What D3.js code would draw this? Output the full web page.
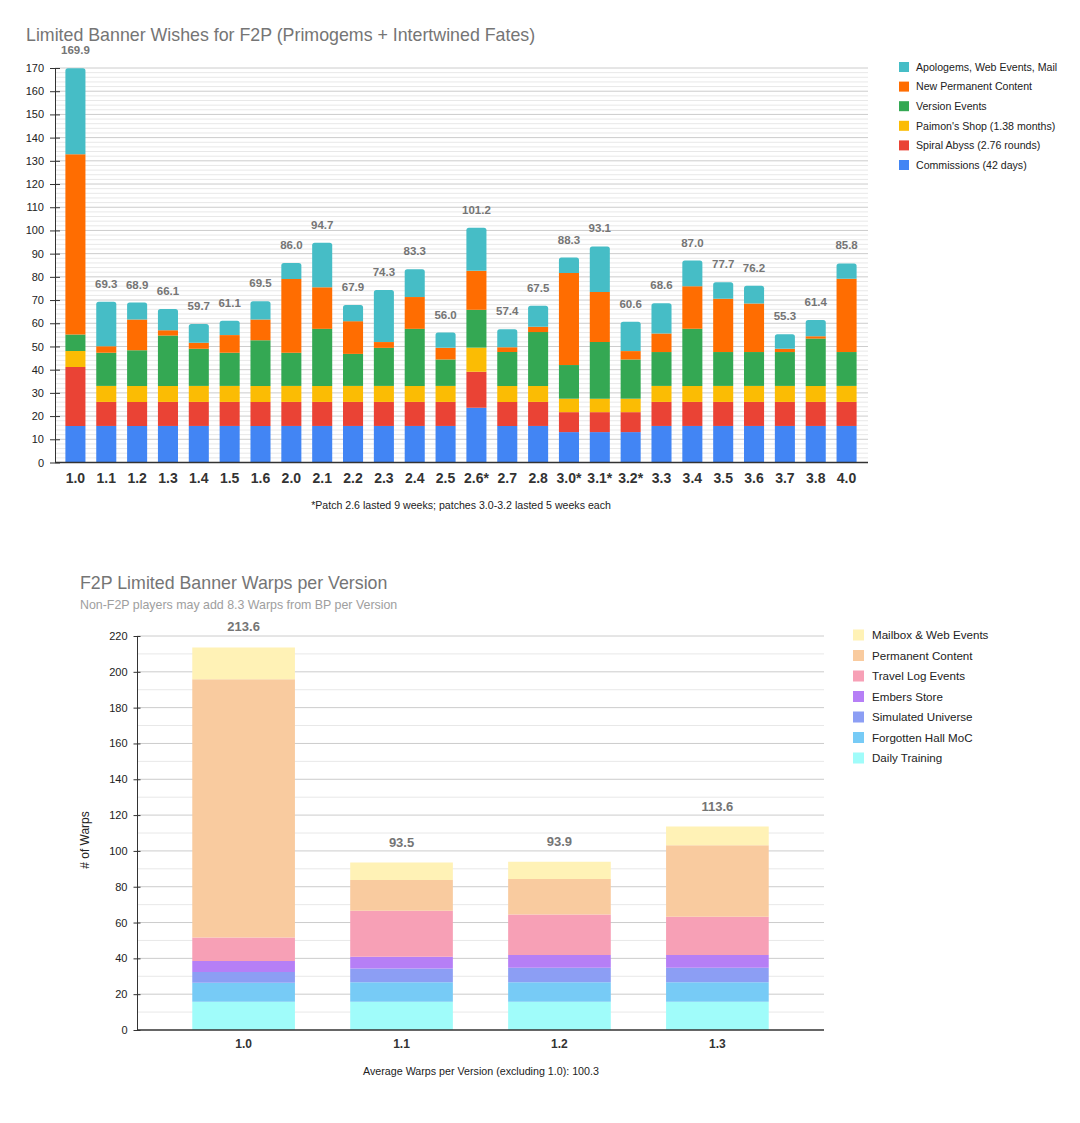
<!DOCTYPE html>
<html>
<head>
<meta charset="utf-8">
<script src="https://cdn.jsdelivr.net/npm/d3@7"></script>
<style>
  body { margin: 0; background: #fff; }
  svg { display: block; font-family: Arial, "Liberation Sans", sans-serif; }
</style>
</head>
<body>
<div id="chart"></div>
<script>
// Wykres 1: Genshin (wishes), wykres 2: HSR (warps)
const wishVersions = ["1.0","1.1","1.2","1.3","1.4","1.5","1.6","2.0","2.1","2.2","2.3","2.4","2.5","2.6*","2.7","2.8","3.0*","3.1*","3.2*","3.3","3.4","3.5","3.6","3.7","3.8","4.0"];
const wishSeries = ["Commissions (42 days)","Spiral Abyss (2.76 rounds)","Paimon's Shop (1.38 months)","Version Events","New Permanent Content","Apologems, Web Events, Mail"];
const wishColors = ["#4285f4","#ea4335","#fbbc04","#34a853","#ff6d01","#46bdc6"];

const commissions = [15.75,15.75,15.75,15.75,15.75,15.75,15.75,15.75,15.75,15.75,15.75,15.75,15.75,23.6,15.75,15.75,13.1,13.1,13.1,15.75,15.75,15.75,15.75,15.75,15.75,15.75];
const spiralAbyss = [25.35,10.35,10.35,10.35,10.35,10.35,10.35,10.35,10.35,10.35,10.35,10.35,10.35,15.5,10.35,10.35,8.6,8.6,8.6,10.35,10.35,10.35,10.35,10.35,10.35,10.35];
const paimonShop = [6.9,6.9,6.9,6.9,6.9,6.9,6.9,6.9,6.9,6.9,6.9,6.9,6.9,10.4,6.9,6.9,5.8,5.8,5.8,6.9,6.9,6.9,6.9,6.9,6.9,6.9];
const versionEvents = [7.2,14.3,15.4,21.7,16.0,14.3,19.7,14.3,24.6,13.8,16.4,24.6,11.4,16.3,14.6,23.2,14.5,24.4,16.9,14.6,24.6,14.6,14.6,14.6,20.4,14.6];
const newPermanent = [77.6,2.8,13.2,2.3,2.6,7.6,8.9,31.8,17.9,14.1,2.5,13.7,5.0,16.8,2.1,2.3,39.7,21.6,3.6,8.0,18.3,23.0,20.9,1.4,1.0,31.6];
const wishTotals = [169.9,69.3,68.9,66.1,59.7,61.1,69.5,86.0,94.7,67.9,74.3,83.3,56.0,101.2,57.4,67.5,88.3,93.1,60.6,68.6,87.0,77.7,76.2,55.3,61.4,85.8];
// reszta do sumy = Apologems, Web Events, Mail
const apologems = wishTotals.map((t, i) =>
  t - commissions[i] - spiralAbyss[i] - paimonShop[i] - versionEvents[i] - newPermanent[i]);

const warpVersions = ["1.0","1.1","1.2","1.3"];
const warpSeries = ["Daily Training","Forgotten Hall MoC","Simulated Universe","Embers Store","Travel Log Events","Permanent Content","Mailbox & Web Events"];
const warpColors = ["#a0fcfa","#77cbf6","#8c9ef4","#b67ff6","#f7a0b6","#f9cb9f","#fff2b6"];
const dailyTraining = [15.8,15.8,15.8,15.8];
const forgottenHall = [10.6,10.8,10.8,10.8];
const simUniverse = [6.0,7.8,8.2,8.2];
const embersStore = [6.1,6.5,7.1,7.1];
const travelLog = [13.2,25.7,22.6,21.3];
const permanentContent = [144.2,17.1,19.8,40.0];
const warpTotals = [213.6,93.5,93.9,113.6];
const mailbox = warpTotals.map((t, i) =>
  t - dailyTraining[i] - forgottenHall[i] - simUniverse[i] - embersStore[i] - travelLog[i] - permanentContent[i]);

const W = 1080, H = 1123;
const svg = d3.select("#chart").append("svg").attr("width", W).attr("height", H);

function roundedTop(x, y, w, h, r) {
  r = Math.min(r, h, w / 2);
  return `M${x},${y + h}V${y + r}Q${x},${y} ${x + r},${y}H${x + w - r}Q${x + w},${y} ${x + w},${y + r}V${y + h}Z`;
}

function drawStacked(opt) {
  const g = svg.append("g");
  const rows = opt.categories.map((c, i) => {
    const o = { cat: c, total: opt.totals[i] };
    opt.series.forEach((s, k) => { o[s] = opt.values[k][i]; });
    return o;
  });
  const stacked = d3.stack().keys(opt.series)(rows);

  const x = d3.scaleBand().domain(opt.categories).range([opt.x0, opt.x1])
    .paddingInner(opt.padIn).paddingOuter(opt.padOut);
  const y = d3.scaleLinear().domain([0, opt.yMax]).range([opt.y0, opt.y1]);

  // siatka: drobna + główna
  g.append("g").selectAll("line")
    .data(d3.range(0, opt.yMax + 0.001, opt.minorStep).filter((v) => Math.abs(v % opt.majorStep) > 0.001))
    .join("line")
    .attr("x1", opt.axisX).attr("x2", opt.gridEnd)
    .attr("y1", (d) => y(d)).attr("y2", (d) => y(d))
    .attr("stroke", "#e8e8e8").attr("stroke-width", 1);
  g.append("g").selectAll("line")
    .data(d3.range(opt.majorStep, opt.yMax + 0.001, opt.majorStep))
    .join("line")
    .attr("x1", opt.axisX).attr("x2", opt.gridEnd)
    .attr("y1", (d) => y(d)).attr("y2", (d) => y(d))
    .attr("stroke", "#cccccc").attr("stroke-width", 1);

  // słupki
  const lastKey = opt.series[opt.series.length - 1];
  stacked.forEach((layer, k) => {
    g.append("g").attr("fill", opt.colors[k]).selectAll("path")
      .data(layer)
      .join("path")
      .attr("d", (d) => {
        const bx = x(d.data.cat), bw = x.bandwidth();
        const top = y(d[1]), h = y(d[0]) - y(d[1]);
        if (layer.key === lastKey && opt.radius) return roundedTop(bx, top, bw, h, opt.radius);
        return `M${bx},${top}h${bw}v${h}h${-bw}Z`;
      });
  });

  // sumy nad słupkami
  g.append("g").selectAll("text")
    .data(rows)
    .join("text")
    .attr("x", (d) => x(d.cat) + x.bandwidth() / 2)
    .attr("y", (d) => y(d.total) - opt.labelGap)
    .attr("text-anchor", "middle")
    .attr("font-size", opt.labelSize)
    .attr("font-weight", "bold")
    .attr("fill", "#757575")
    .text((d) => d.total.toFixed(1));

  // osie
  const yAxis = d3.axisLeft(y).tickValues(d3.range(0, opt.yMax + 0.001, opt.majorStep))
    .tickSizeInner(opt.tickLen).tickSizeOuter(0).tickPadding(opt.tickPad);
  const ya = g.append("g").attr("transform", `translate(${opt.axisX},0)`).call(yAxis);
  ya.select(".domain").attr("stroke", "#333");
  ya.selectAll(".tick line").attr("stroke", "#333").attr("x2", -opt.tickLen).attr("x1", opt.tickLen);
  ya.selectAll(".tick text").attr("font-size", opt.tickSize).attr("fill", "#222")
    .attr("font-family", "Arial, 'Liberation Sans', sans-serif");

  g.append("line")
    .attr("x1", opt.axisX).attr("x2", opt.gridEnd)
    .attr("y1", y(0)).attr("y2", y(0))
    .attr("stroke", "#333").attr("stroke-width", 1.3);

  g.append("g").selectAll("text")
    .data(opt.categories)
    .join("text")
    .attr("x", (d) => x(d) + x.bandwidth() / 2)
    .attr("y", y(0) + opt.catOffset)
    .attr("text-anchor", "middle")
    .attr("font-size", opt.catSize)
    .attr("font-weight", "bold")
    .attr("fill", "#333")
    .text((d) => d);

  // legenda (odwrócona kolejność, jak w arkuszu)
  const leg = g.append("g");
  const legItems = opt.series.map((s, k) => ({ s, c: opt.colors[k] })).reverse();
  legItems.forEach((it, i) => {
    const cy = opt.legY + i * opt.legStep;
    leg.append("rect").attr("x", opt.legX).attr("y", cy - opt.legBox / 2)
      .attr("width", opt.legBox).attr("height", opt.legBox).attr("fill", it.c);
    leg.append("text").attr("x", opt.legX + opt.legBox + opt.legGap).attr("y", cy)
      .attr("dy", "0.35em").attr("font-size", opt.legSize).attr("fill", "#222").text(it.s);
  });
  return g;
}

// --- wykres 1 ---
svg.append("text").attr("x", 26).attr("y", 41).attr("font-size", 17.8).attr("fill", "#757575")
  .text("Limited Banner Wishes for F2P (Primogems + Intertwined Fates)");

drawStacked({
  categories: wishVersions,
  series: wishSeries,
  colors: wishColors,
  values: [commissions, spiralAbyss, paimonShop, versionEvents, newPermanent, apologems],
  totals: wishTotals,
  x0: 60, x1: 862, padIn: 0.35, padOut: 0.175,
  y0: 462.5, y1: 68, yMax: 170,
  axisX: 55, gridEnd: 868,
  majorStep: 10, minorStep: 2,
  radius: 2.5,
  labelGap: 14, labelSize: 11.5,
  tickLen: 5, tickPad: 6, tickSize: 11,
  catOffset: 20, catSize: 14,
  legX: 899, legY: 67, legStep: 19.6, legBox: 10, legGap: 7, legSize: 10.6
});

svg.append("text").attr("x", 461).attr("y", 509).attr("text-anchor", "middle")
  .attr("font-size", 10.6).attr("fill", "#222")
  .text("*Patch 2.6 lasted 9 weeks; patches 3.0-3.2 lasted 5 weeks each");

// --- wykres 2 ---
svg.append("text").attr("x", 80).attr("y", 589).attr("font-size", 17.8).attr("fill", "#757575")
  .text("F2P Limited Banner Warps per Version");
svg.append("text").attr("x", 80).attr("y", 609).attr("font-size", 12.4).attr("fill", "#9e9e9e")
  .text("Non-F2P players may add 8.3 Warps from BP per Version");

drawStacked({
  categories: warpVersions,
  series: warpSeries,
  colors: warpColors,
  values: [dailyTraining, forgottenHall, simUniverse, embersStore, travelLog, permanentContent, mailbox],
  totals: warpTotals,
  x0: 137, x1: 824, padIn: 0.35, padOut: 0.35,
  y0: 1030, y1: 636, yMax: 220,
  axisX: 137, gridEnd: 824,
  majorStep: 20, minorStep: 10,
  radius: 0,
  labelGap: 16, labelSize: 13,
  tickLen: 3.5, tickPad: 6, tickSize: 11,
  catOffset: 18, catSize: 12,
  legX: 853, legY: 635, legStep: 20.5, legBox: 11, legGap: 8, legSize: 11.6
});

svg.append("text")
  .attr("transform", "translate(89,840) rotate(-90)")
  .attr("text-anchor", "middle").attr("font-size", 12).attr("fill", "#222")
  .text("# of Warps");

svg.append("text").attr("x", 481).attr("y", 1075).attr("text-anchor", "middle")
  .attr("font-size", 10.7).attr("fill", "#222")
  .text("Average Warps per Version (excluding 1.0): 100.3");
</script>
</body>
</html>
